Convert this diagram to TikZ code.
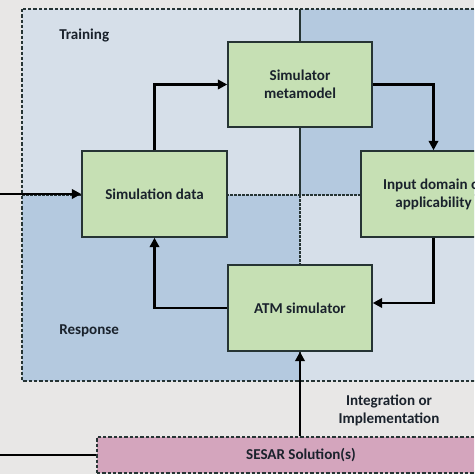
\documentclass[tikz,border=0pt]{standalone}
\usepackage{fontspec}
\setmainfont{Carlito}
\usetikzlibrary{arrows.meta}
\definecolor{bggray}{RGB}{232,231,230}
\definecolor{lightq}{RGB}{214,223,233}
\definecolor{blueq}{RGB}{180,201,223}
\definecolor{boxgreen}{RGB}{198,224,180}
\definecolor{boxpink}{RGB}{212,165,189}
\definecolor{boxline}{RGB}{38,52,52}
\definecolor{labeltext}{RGB}{26,34,44}
\tikzset{
  procbox/.style={draw=boxline,line width=1.1pt,fill=boxgreen,minimum width=108.75pt,minimum height=64.5pt,inner sep=0pt,align=center,font=\fontsize{11.3}{13.5}\selectfont\bfseries,text=labeltext},
  flowarr/.style={line width=2pt,-{Triangle[length=7pt,width=7pt]}},
  zonetext/.style={inner sep=0.75pt,font=\fontsize{11.3}{13.5}\selectfont\bfseries,text=labeltext}
}
\begin{document}
\begin{tikzpicture}[x=0.75pt,y=0.75pt,yscale=-1,xscale=1]
\useasboundingbox (0,0) rectangle (474,474);
\clip (0,0) rectangle (474,474);
%Shape: Rectangle [background]
\fill[bggray] (0,0) rectangle (474,474);
%Shape: Rectangle [quadrants]
\fill[lightq] (22,9) rectangle (300,195);
\fill[blueq] (300,9) rectangle (500,195);
\fill[blueq] (22,195) rectangle (300,381);
\fill[lightq] (300,195) rectangle (500,381);
%Shape: Rectangle [dashed frame]
\draw[line width=1.1pt,dash pattern=on 2.5pt off 1.5pt,boxline] (22,9) rectangle (500,381);
%Shape: Lines [dividers]
\draw[line width=0.9pt,boxline] (300,9) -- (300,195);
\draw[line width=0.9pt,dash pattern=on 2pt off 1pt,boxline] (300,195) -- (300,381);
\draw[line width=0.9pt,dash pattern=on 2pt off 1pt,boxline] (22,195) -- (500,195);

% Text Node
\draw (58,35) node [anchor=west][zonetext] {Training};
% Text Node
\draw (58,331) node [anchor=west][zonetext] {Response};
% Text Node
\draw (389,410) node [zonetext,align=center] {Integration or\\Implementation};

%Flowchart: Process
\node[procbox] (simdata) at (154.5,194) {Simulation data};
\node[procbox,minimum width=108pt,minimum height=63.75pt] (meta) at (300,84.5) {Simulator\\metamodel};
\node[procbox] (domain) at (433.5,194) {Input domain of\\applicability};
\node[procbox,minimum width=108pt] (atm) at (300,308) {ATM simulator};
%Shape: Rectangle [SESAR]
\node[procbox,fill=boxpink,dash pattern=on 2.5pt off 1.5pt,minimum width=306pt,minimum height=27pt] (sesar) at (301,455) {SESAR Solution(s)};

\coordinate (datain) at (0,194);
\coordinate (solin) at (0,455);

%Arrows
\draw[flowarr] (datain) -- (simdata.west);
\draw[flowarr] (simdata.north) |- (meta.west);
\draw[flowarr] (meta.east) -| (domain.north);
\draw[flowarr] (domain.south) |- ([yshift=-3.75pt]atm.east);
\draw[flowarr] (atm.west) -| (simdata.south);
\draw[flowarr] (sesar.north -| atm.south) -- (atm.south);
\draw[line width=1.6pt] (solin) -- (sesar.west);
\end{tikzpicture}
\end{document}
